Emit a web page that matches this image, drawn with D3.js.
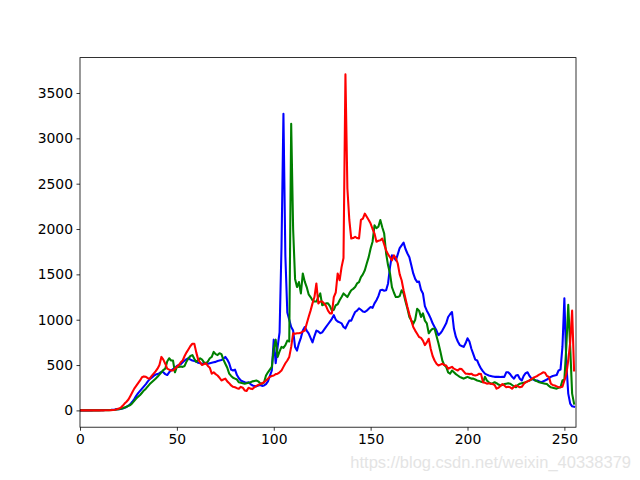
<!DOCTYPE html>
<html>
<head>
<meta charset="utf-8">
<script src="https://cdn.jsdelivr.net/npm/d3@7"></script>
<style>
  body { margin: 0; background: #fff; }
  svg { display: block; }
</style>
</head>
<body>
<svg id="chart" width="640" height="480"></svg>
<script>
// ---- data: histogram counts per intensity bin (0..255) ----
const blueValues = [
  0,0,0,0,0,0,0,1,1,2,
  2,3,3,4,4,5,6,8,10,14,
  12,15,20,28,38,52,70,95,125,160,
  190,215,240,265,290,320,345,360,380,395,
  400,410,425,420,400,390,420,440,455,470,
  490,500,510,530,550,565,575,560,550,545,
  540,525,520,515,520,525,515,520,525,530,
  535,545,550,555,570,590,560,520,450,440,
  450,390,355,330,320,310,305,310,290,275,
  270,265,275,280,270,275,290,320,380,440,
  780,520,700,860,1800,3270,1700,1080,1000,920,
  880,700,660,740,800,880,920,880,850,800,
  750,820,880,870,850,860,890,920,950,980,
  1010,1050,1000,980,970,960,920,905,950,990,
  990,1040,1085,1100,1125,1110,1090,1085,1100,1120,
  1140,1130,1180,1215,1260,1325,1330,1320,1325,1400,
  1580,1710,1690,1655,1720,1790,1820,1850,1780,1730,
  1690,1600,1510,1450,1415,1420,1330,1290,1150,1100,
  1060,1015,960,920,880,830,850,880,920,960,
  1030,1060,1085,900,810,760,720,710,700,740,
  795,760,680,620,560,550,500,460,430,405,
  395,385,380,375,370,372,370,368,370,370,
  420,420,400,370,350,385,390,350,330,380,
  410,420,380,350,340,330,330,320,310,320,
  330,340,355,370,380,385,390,440,450,700,
  1235,520,185,75,45,40
];
const greenValues = [
  0,0,0,0,0,0,0,0,0,0,
  0,1,1,2,2,3,4,5,7,10,
  13,18,24,32,40,50,60,80,105,130,
  150,170,195,220,240,265,290,310,330,350,
  370,395,420,445,460,540,575,550,550,420,
  480,480,485,480,490,540,575,600,610,570,
  535,555,575,560,530,515,540,575,590,645,
  620,610,630,620,560,515,470,405,380,360,
  350,340,310,305,300,295,300,305,310,320,
  325,330,320,300,295,310,385,420,450,480,
  680,780,590,650,700,690,720,770,760,3160,
  2000,1450,1360,1415,1290,1510,1420,1360,1280,1250,
  1215,1200,1200,1250,1290,1160,1170,1180,1180,1150,
  1100,1110,1160,1170,1215,1250,1290,1270,1250,1290,
  1325,1340,1360,1400,1415,1470,1500,1545,1620,1690,
  1785,1860,2040,2010,2025,2100,2020,1950,1730,1600,
  1510,1360,1300,1250,1250,1260,1325,1290,1200,1120,
  1030,990,955,1000,1120,1100,1030,1070,990,960,
  850,880,900,900,820,740,650,550,500,480,
  420,405,440,420,400,385,370,360,350,360,
  370,360,350,350,340,330,325,315,310,370,
  330,310,295,300,310,300,285,275,280,290,
  295,300,295,280,265,255,280,295,300,305,
  310,320,330,340,350,330,320,310,305,300,
  295,290,270,255,250,245,240,250,255,330,
  340,700,1165,700,185,75
];
const redValues = [
  0,0,0,0,0,0,0,0,0,0,
  0,0,0,1,1,2,3,5,8,12,
  20,30,50,75,95,120,160,200,240,270,
  300,330,365,375,370,355,350,380,405,430,
  460,500,590,560,515,460,450,440,440,460,
  480,500,530,550,600,640,675,710,735,735,
  640,560,530,500,510,520,490,470,405,420,
  400,385,360,330,340,350,320,300,275,260,
  255,245,240,260,250,220,215,250,240,235,
  255,270,280,290,300,310,330,350,370,380,
  385,400,405,420,440,480,520,550,590,700,
  850,845,850,850,855,870,880,955,1030,1100,
  1180,1250,1400,1180,1200,1200,1180,1150,1100,1070,
  1070,1250,1300,1510,1435,1580,1680,3705,2450,2100,
  1895,1900,1915,1900,1895,2100,2115,2170,2135,2100,
  2060,2000,1950,1860,1870,1875,1895,1830,1765,1720,
  1690,1655,1710,1680,1620,1500,1435,1325,1230,1140,
  1060,990,920,880,845,810,800,770,720,750,
  790,680,600,550,515,495,505,515,500,495,
  460,470,480,460,450,440,460,455,430,405,
  405,400,405,390,385,390,405,400,310,305,
  295,300,295,290,280,240,250,270,290,275,
  255,260,255,240,260,275,265,255,260,290,
  310,320,330,345,360,370,380,395,405,420,
  415,380,370,295,280,275,265,255,255,260,
  330,400,550,750,1100,440
];
const seriesColors = ["#0000ff", "#008000", "#ff0000"];
const xTickValues = [0, 50, 100, 150, 200, 250];
const yTickValues = [0, 500, 1000, 1500, 2000, 2500, 3000, 3500];
const watermarkText = "https://blog.csdn.net/weixin_40338379";

// ---- layout (matplotlib default figure) ----
const plotLeft = 80, plotRight = 576, plotTop = 57.6, plotBottom = 427.2;

const svg = d3.select("#chart");

const allSeries = [blueValues, greenValues, redValues];
const maxV = d3.max(allSeries, s => d3.max(s));
const minV = 0;
const pad = (maxV - minV) * 0.05;

const x = d3.scaleLinear().domain([0, 256]).range([plotLeft, plotRight]);
const y = d3.scaleLinear().domain([minV - pad, maxV + pad]).range([plotBottom, plotTop]);

svg.append("defs").append("clipPath").attr("id", "plotclip")
  .append("rect").attr("x", plotLeft).attr("y", plotTop)
  .attr("width", plotRight - plotLeft).attr("height", plotBottom - plotTop);

const line = d3.line()
  .x((d, i) => x(i))
  .y(d => y(d));

const plot = svg.append("g").attr("clip-path", "url(#plotclip)");
allSeries.forEach((s, k) => {
  plot.append("path")
    .datum(s)
    .attr("d", line)
    .attr("fill", "none")
    .attr("stroke", seriesColors[k])
    .attr("stroke-width", 2.08)
    .attr("stroke-linejoin", "round")
    .attr("stroke-linecap", "square");
});

// axes
const font = "'DejaVu Sans', sans-serif";
const xAxis = d3.axisBottom(x).tickValues(xTickValues).tickSize(3.5).tickPadding(3.5)
  .tickFormat(d3.format("d"));
const yAxis = d3.axisLeft(y).tickValues(yTickValues).tickSize(3.5).tickPadding(3.5)
  .tickFormat(d3.format("d"));

const gx = svg.append("g").attr("transform", `translate(0,${plotBottom})`).call(xAxis);
const gy = svg.append("g").attr("transform", `translate(${plotLeft},0)`).call(yAxis);
[gx, gy].forEach(g => {
  g.select(".domain").remove();
  g.selectAll(".tick line").attr("stroke", "#000").attr("stroke-width", 0.8);
  g.selectAll(".tick text").attr("fill", "#000")
    .style("font-family", font).style("font-size", "13.9px");
});

// spines
svg.append("rect")
  .attr("x", plotLeft).attr("y", plotTop)
  .attr("width", plotRight - plotLeft).attr("height", plotBottom - plotTop)
  .attr("fill", "none").attr("stroke", "#000").attr("stroke-width", 0.8);

// watermark
svg.append("text")
  .attr("x", 631).attr("y", 468)
  .attr("text-anchor", "end")
  .style("font-family", "'Liberation Sans', Arial, sans-serif")
  .style("font-size", "16.5px")
  .attr("fill", "#e4e4e4")
  .text(watermarkText);
</script>
</body>
</html>
